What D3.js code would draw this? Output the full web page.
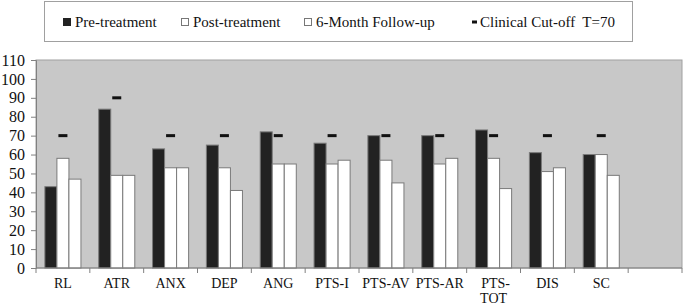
<!DOCTYPE html>
<html>
<head>
<meta charset="utf-8">
<script src="https://cdn.jsdelivr.net/npm/d3@7"></script>
<style>
  body { margin: 0; background: #fff; }
  svg { display: block; }
  text { font-family: "Liberation Serif", "Times New Roman", serif; fill: #111; }
</style>
</head>
<body>
<svg id="chart" width="685" height="308"></svg>
<script>
const categories = ["RL", "ATR", "ANX", "DEP", "ANG", "PTS-I", "PTS-AV", "PTS-AR", "PTS-TOT", "DIS", "SC"];
const preTreatment = [43, 84, 63, 65, 72, 66, 70, 70, 73, 61, 60];
const postTreatment = [58, 49, 53, 53, 55, 55, 57, 55, 58, 51, 60];
const followUp = [47, 49, 53, 41, 55, 57, 45, 58, 42, 53, 49];
const cutoff = [70, 90, 70, 70, 70, 70, 70, 70, 70, 70, 70];
const seriesNames = ["Pre-treatment", "Post-treatment", "6-Month Follow-up"];
const cutoffLabel = "Clinical Cut-off  T=70";
const yTicks = [0, 10, 20, 30, 40, 50, 60, 70, 80, 90, 100, 110];

const svg = d3.select("#chart");
const mLeft = 36, mRight = 682, mTop = 60, mBottom = 268;

const slots = categories.concat([" "]);
const x = d3.scaleBand().domain(slots).range([mLeft, mRight]).padding(0);
const y = d3.scaleLinear().domain([0, 110]).range([mBottom, mTop]);
const groupFrac = 0.67;
const inner = d3.scaleBand().domain([0, 1, 2])
  .range([0, x.bandwidth() * groupFrac]).padding(0);
const groupOffset = x.bandwidth() * (1 - groupFrac) / 2;

// plot background
svg.append("rect").attr("x", mLeft).attr("y", mTop)
  .attr("width", mRight - mLeft).attr("height", mBottom - mTop)
  .attr("fill", "#c8c8c8").attr("stroke", "#a0a0a0").attr("stroke-width", 1);

const series = [preTreatment, postTreatment, followUp];
const fills = ["#222222", "#ffffff", "#ffffff"];
series.forEach((vals, si) => {
  svg.append("g").selectAll("rect").data(vals).join("rect")
    .attr("x", (d, i) => x(categories[i]) + groupOffset + inner(si))
    .attr("y", d => y(d))
    .attr("width", inner.bandwidth())
    .attr("height", d => y(0) - y(d))
    .attr("fill", fills[si])
    .attr("stroke", "#7a7a7a").attr("stroke-width", 1);
});

// cutoff markers
svg.append("g").selectAll("rect").data(cutoff).join("rect")
  .attr("x", (d, i) => x(categories[i]) + x.bandwidth() / 2 - 4.5)
  .attr("y", d => y(d) - 1.5)
  .attr("width", 9).attr("height", 3)
  .attr("fill", "#111");

// y axis
const yAxis = svg.append("g").attr("transform", `translate(${mLeft},0)`)
  .call(d3.axisLeft(y).tickValues(yTicks).tickSize(5).tickPadding(6));
yAxis.select(".domain").attr("stroke", "#808080");
yAxis.selectAll(".tick line").attr("stroke", "#808080");
yAxis.selectAll("text").style("font-size", "16px")
  .style("font-family", "'Liberation Serif', serif").attr("fill", "#111");

// x axis line & ticks at band edges
svg.append("line").attr("x1", mLeft).attr("x2", mRight)
  .attr("y1", mBottom).attr("y2", mBottom).attr("stroke", "#808080");
const edges = slots.map(s => x(s)).concat([mRight]);
svg.append("g").selectAll("line").data(edges).join("line")
  .attr("x1", d => d).attr("x2", d => d)
  .attr("y1", mBottom).attr("y2", mBottom + 5)
  .attr("stroke", "#808080");

// x labels
const labG = svg.append("g");
categories.forEach(c => {
  const cx = x(c) + x.bandwidth() / 2;
  const t = labG.append("text").attr("x", cx).attr("y", 288)
    .attr("text-anchor", "middle").style("font-size", "14px");
  if (c === "PTS-TOT") {
    t.append("tspan").attr("x", cx).attr("dx", 2).text("PTS-");
    t.append("tspan").attr("x", cx).attr("dy", 15).text("TOT");
  } else {
    t.text(c);
  }
});

// legend
const lg = svg.append("g");
lg.append("rect").attr("x", 44.5).attr("y", 1.5).attr("width", 588).attr("height", 40)
  .attr("fill", "#fff").attr("stroke", "#a0a0a0");
const legendX = [63, 181, 304];
seriesNames.forEach((n, i) => {
  lg.append("rect").attr("x", legendX[i] + 0.5).attr("y", 18.5).attr("width", 7).attr("height", 7)
    .attr("fill", fills[i]).attr("stroke", i === 0 ? "#222" : "#777");
  lg.append("text").attr("x", legendX[i] + 12).attr("y", 27).style("font-size", "15px").text(n);
});
lg.append("rect").attr("x", 472).attr("y", 20.5).attr("width", 5).attr("height", 3).attr("fill", "#111");
lg.append("text").attr("x", 480).attr("y", 27).style("font-size", "15px")
  .attr("xml:space", "preserve").style("white-space", "pre").text(cutoffLabel);
</script>
</body>
</html>
